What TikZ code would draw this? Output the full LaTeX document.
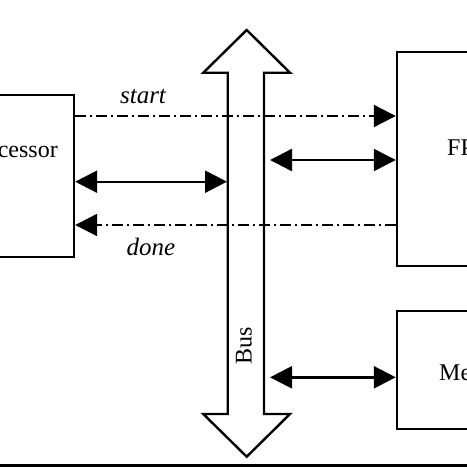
\documentclass[tikz,border=0pt]{standalone}
\usepackage{fontspec}
\setmainfont{Liberation Serif}
\usetikzlibrary{arrows.meta,shapes.arrows}
\begin{document}
\begin{tikzpicture}[x=1pt,y=-1pt,
  blk/.style={draw,line width=2.4pt,minimum width=#1,inner sep=0pt},
  lbl/.style={font=\fontsize{24}{28}\selectfont,inner sep=0pt},
  ilbl/.style={font=\fontsize{25}{29}\selectfont\itshape,inner sep=0pt},
  tip/.style={-{Triangle[length=22pt,width=22pt]}},
  dtip/.style={{Triangle[length=22pt,width=22pt]}-{Triangle[length=22pt,width=22pt]}},
  conn/.style={line width=2.4pt},
  dashdot/.style={line width=2.2pt,dash pattern=on 11pt off 4pt on 2pt off 4pt}]
\useasboundingbox (0,0) rectangle (467,467);
\clip (0,0) rectangle (467,467);
% boxes
\node[blk=120pt,minimum height=162pt] (proc) at (14,176) {};
\node[lbl,anchor=east] (proct) at (58,150) {Processor};
\node[blk=150pt,minimum height=214pt] (fpga) at (472,159) {};
\node[lbl,anchor=west] (fpgat) at (447,148) {FPGA};
\node[blk=150pt,minimum height=118pt] (mem) at (472,370) {};
\node[lbl,anchor=west] (memt) at (439,375) {Memory};
% bus
\draw[line width=2.4pt,fill=white] (246.7,30) -- (290,72.7) -- (264,72.7) -- (264,414) -- (290,414) -- (246.7,456.7) -- (203.3,414) -- (227.7,414) -- (227.7,72.7) -- (203.3,72.7) -- cycle;
\node[lbl,rotate=90] (bus) at (244,346) {Bus};
\coordinate (busL) at (227,181.7);
\coordinate (busR1) at (270,160);
\coordinate (busR2) at (270,377.3);
% connectors
\draw[conn,dtip] (proc.east |- busL) -- (busL);
\draw[conn,dtip] (busR1) -- (fpga.west |- busR1);
\draw[conn,dtip] (busR2) -- (mem.west |- busR2);
\draw[dashdot,tip] (proc.east |- 0,116) -- (fpga.west |- 0,116);
\draw[dashdot,tip] (fpga.west |- 0,225) -- (proc.east |- 0,225);
\node[ilbl] (start) at (143,97) {start};
\node[ilbl] (done) at (151,247) {done};
% bottom rule
\coordinate (bl) at (0,465);
\coordinate (br) at (467,465);
\draw[line width=3pt] (bl) -- (br);
\end{tikzpicture}
\end{document}
